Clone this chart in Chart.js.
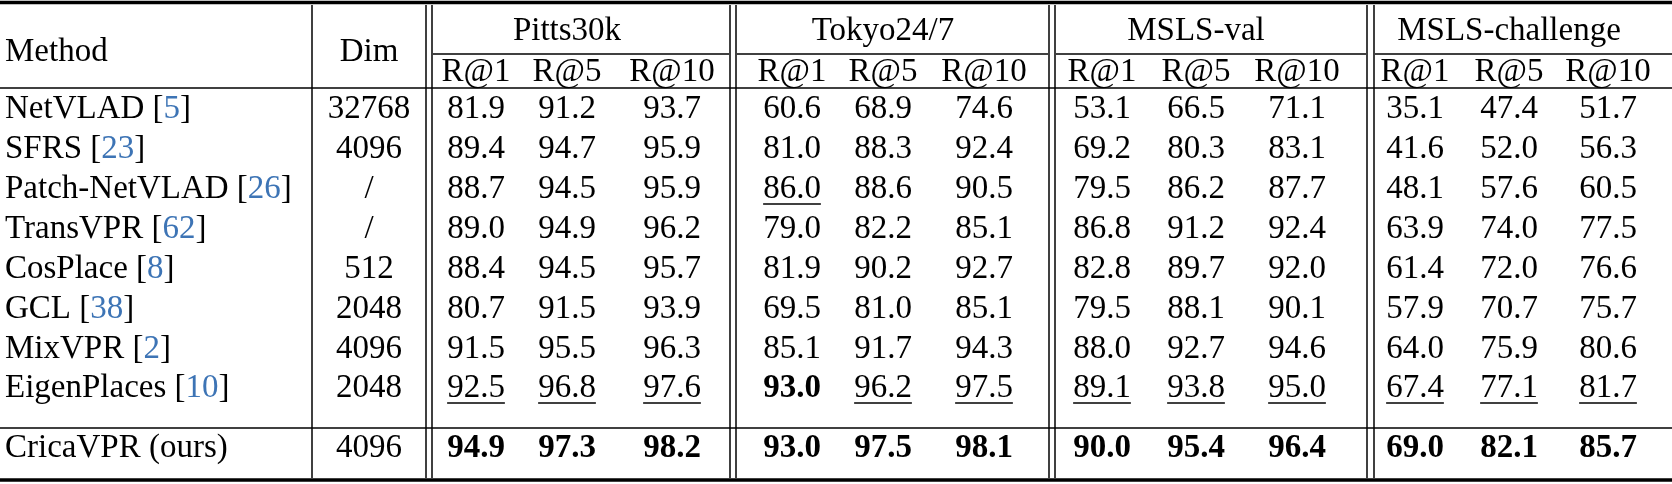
<!DOCTYPE html>
<html>
<head>
<meta charset="utf-8">
<script src="https://cdn.jsdelivr.net/npm/chart.js@4"></script>
<style>
  html, body { margin: 0; padding: 0; background: #fff; }
  #wrap { width: 1672px; height: 484px; }
</style>
</head>
<body>
<div id="wrap"><canvas id="tbl" width="1672" height="484"></canvas></div>
<script>
// table contents
const methods = ['NetVLAD', 'SFRS', 'Patch-NetVLAD', 'TransVPR', 'CosPlace', 'GCL', 'MixVPR', 'EigenPlaces', 'CricaVPR (ours)'];
const refs = ['5', '23', '26', '62', '8', '38', '2', '10', ''];
const dims = ['32768', '4096', '/', '/', '512', '2048', '4096', '2048', '4096'];
const groups = ['Pitts30k', 'Tokyo24/7', 'MSLS-val', 'MSLS-challenge'];
const metrics = ['R@1', 'R@5', 'R@10'];

const pitts30k = [
    [81.9, 91.2, 93.7], [89.4, 94.7, 95.9], [88.7, 94.5, 95.9], [89.0, 94.9, 96.2], [88.4, 94.5, 95.7],
    [80.7, 91.5, 93.9], [91.5, 95.5, 96.3], [92.5, 96.8, 97.6], [94.9, 97.3, 98.2]
];
const tokyo247 = [
    [60.6, 68.9, 74.6], [81.0, 88.3, 92.4], [86.0, 88.6, 90.5], [79.0, 82.2, 85.1], [81.9, 90.2, 92.7],
    [69.5, 81.0, 85.1], [85.1, 91.7, 94.3], [93.0, 96.2, 97.5], [93.0, 97.5, 98.1]
];
const mslsVal = [
    [53.1, 66.5, 71.1], [69.2, 80.3, 83.1], [79.5, 86.2, 87.7], [86.8, 91.2, 92.4], [82.8, 89.7, 92.0],
    [79.5, 88.1, 90.1], [88.0, 92.7, 94.6], [89.1, 93.8, 95.0], [90.0, 95.4, 96.4]
];
const mslsChallenge = [
    [35.1, 47.4, 51.7], [41.6, 52.0, 56.3], [48.1, 57.6, 60.5], [63.9, 74.0, 77.5], [61.4, 72.0, 76.6],
    [57.9, 70.7, 75.7], [64.0, 75.9, 80.6], [67.4, 77.1, 81.7], [69.0, 82.1, 85.7]
];
const results = [pitts30k, tokyo247, mslsVal, mslsChallenge];

// layout (pixel units of the 1672x484 canvas)
const colX = [[476, 567, 672], [792, 883, 984], [1102, 1196, 1297], [1415, 1509, 1608]];
const rowY = [109, 149, 189, 229, 269, 309, 349, 388, 448];
const dimX = 369;
const methodX = 5;
const groupY = 31, subY = 72, headY = 52;
const sepX = [[426, 432], [730, 736], [1049, 1055], [1367, 1374]];
const methodLineX = 312;

const FONT = '"Liberation Serif", "Times New Roman", serif';
const SIZE = 33;
const BLUE = '#3d74b5';

// bold = best, underline = second best per column
function ranks(table, c) {
    const vals = [...new Set(table.map(r => r[c]))].sort((a, b) => b - a);
    return { best: vals[0], second: vals[1] };
}

const datasets = [];
results.forEach((table, g) => {
    for (let c = 0; c < 3; c++) {
        const rk = ranks(table, c);
        datasets.push({
            label: groups[g] + ' ' + metrics[c],
            data: table.map((r, i) => ({ x: colX[g][c], y: rowY[i], v: r[c] })),
            rk: rk,
            pointRadius: 0
        });
    }
});

const tablePlugin = {
    id: 'tablePlugin',
    afterDatasetsDraw(chart) {
        const ctx = chart.ctx;
        const xs = chart.scales.x, ys = chart.scales.y;
        const px = v => xs.getPixelForValue(v);
        const py = v => ys.getPixelForValue(v);
        ctx.save();
        ctx.fillStyle = '#000';
        ctx.strokeStyle = '#000';
        ctx.textBaseline = 'middle';

        // rules
        const hline = (x1, x2, y, w) => {
            ctx.lineWidth = w;
            ctx.beginPath(); ctx.moveTo(px(x1), py(y)); ctx.lineTo(px(x2), py(y)); ctx.stroke();
        };
        const vline = (x, y1, y2) => {
            ctx.lineWidth = 1.5;
            ctx.beginPath(); ctx.moveTo(px(x), py(y1)); ctx.lineTo(px(x), py(y2)); ctx.stroke();
        };
        hline(0, 1672, 2.5, 3.5);
        sepX.forEach((s, g) => {
            const end = g < sepX.length - 1 ? sepX[g + 1][0] - 1 : 1672;
            hline(s[1] + 1, end, 54, 1.5);
        });
        hline(0, 1672, 88, 1.5);
        hline(0, 1672, 428, 1.5);
        hline(0, 1672, 480, 3.5);
        vline(methodLineX, 5, 478);
        sepX.forEach(s => { vline(s[0], 5, 478); vline(s[1], 5, 478); });

        // headers
        ctx.font = SIZE + 'px ' + FONT;
        ctx.textAlign = 'left';
        ctx.fillText('Method', px(methodX), py(headY));
        ctx.textAlign = 'center';
        ctx.fillText('Dim', px(dimX), py(headY));
        groups.forEach((g, i) => {
            ctx.fillText(g, px(colX[i][1]), py(groupY));
            metrics.forEach((m, c) => ctx.fillText(m, px(colX[i][c]), py(subY)));
        });

        // method + dim columns
        methods.forEach((m, i) => {
            const y = py(rowY[i]);
            ctx.textAlign = 'left';
            let x = px(methodX);
            ctx.fillStyle = '#000';
            if (refs[i]) {
                const s1 = m + ' [';
                ctx.fillText(s1, x, y); x += ctx.measureText(s1).width;
                ctx.fillStyle = BLUE;
                ctx.fillText(refs[i], x, y); x += ctx.measureText(refs[i]).width;
                ctx.fillStyle = '#000';
                ctx.fillText(']', x, y);
            } else {
                ctx.fillText(m, x, y);
            }
            ctx.textAlign = 'center';
            ctx.fillText(dims[i], px(dimX), y);
        });

        // numbers from dataset points
        chart.data.datasets.forEach((ds, d) => {
            const meta = chart.getDatasetMeta(d);
            meta.data.forEach((pt, i) => {
                const v = ds.data[i].v;
                const bold = v === ds.rk.best;
                const under = v === ds.rk.second;
                ctx.font = (bold ? 'bold ' : '') + SIZE + 'px ' + FONT;
                ctx.textAlign = 'center';
                const s = v.toFixed(1);
                ctx.fillText(s, pt.x, pt.y);
                if (under) {
                    const w = ctx.measureText(s).width;
                    ctx.lineWidth = 1.5;
                    ctx.beginPath();
                    ctx.moveTo(pt.x - w / 2, pt.y + 15);
                    ctx.lineTo(pt.x + w / 2, pt.y + 15);
                    ctx.stroke();
                }
            });
        });
        ctx.restore();
    }
};

new Chart(document.getElementById('tbl').getContext('2d'), {
    type: 'scatter',
    data: { datasets: datasets },
    options: {
        responsive: false,
        animation: false,
        devicePixelRatio: 1,
        layout: { padding: 0 },
        scales: {
            x: { type: 'linear', min: 0, max: 1672, display: false },
            y: { type: 'linear', min: 0, max: 484, reverse: true, display: false }
        },
        plugins: { legend: { display: false }, tooltip: { enabled: false } }
    },
    plugins: [tablePlugin]
});
</script>
</body>
</html>
